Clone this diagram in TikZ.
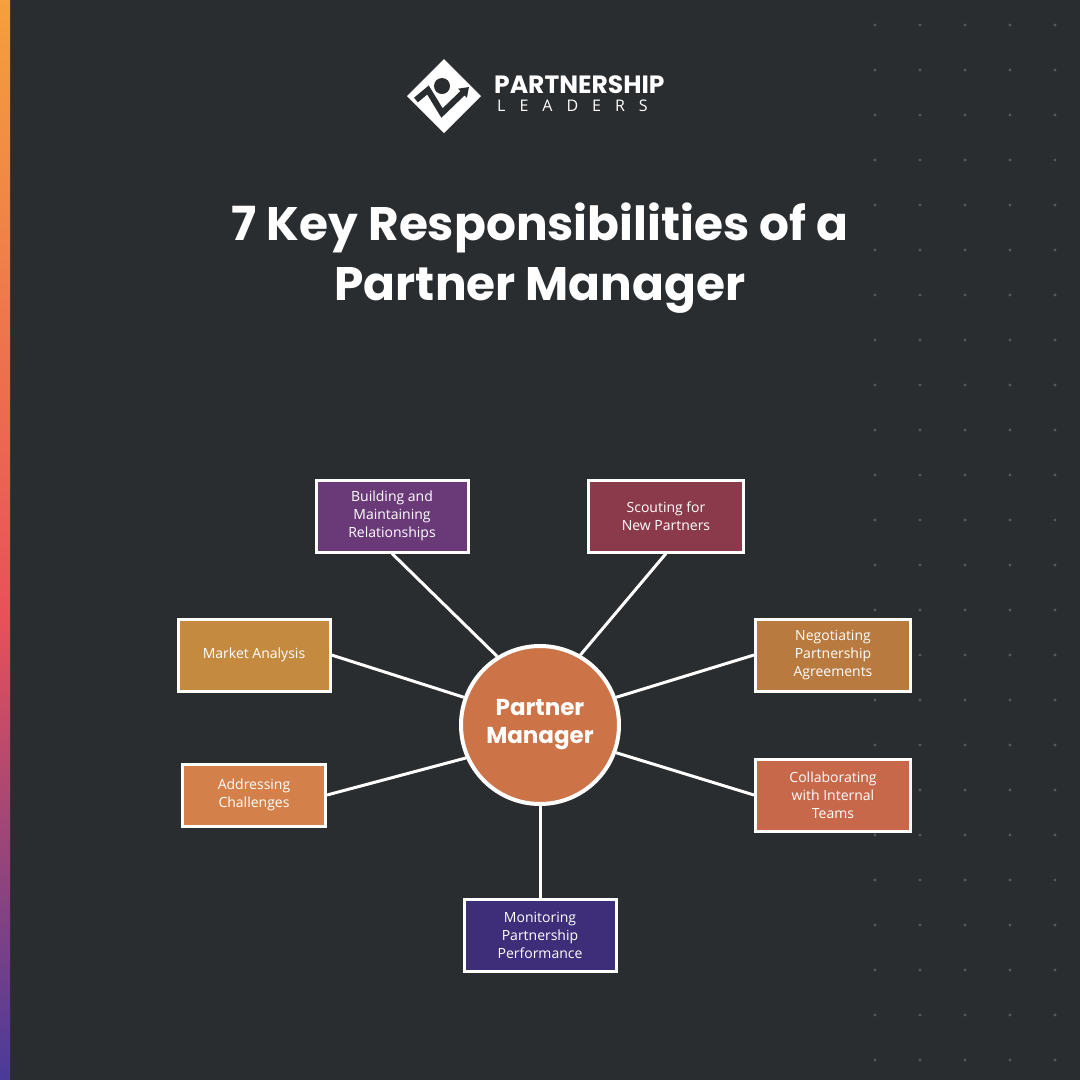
\documentclass[tikz,border=0pt]{standalone}
\usepackage{fontspec}
\setmainfont{Open Sans}
\newfontfamily\titlefont{Poppins}
\usetikzlibrary{positioning, arrows.meta}
\definecolor{bgdark}{HTML}{2A2D30}
\definecolor{dotgrey}{HTML}{555860}
\definecolor{pmorange}{HTML}{CC7448}
\definecolor{cbuild}{HTML}{6A3A78}
\definecolor{cscout}{HTML}{8A3A4A}
\definecolor{cnego}{HTML}{B87A3E}
\definecolor{cmarket}{HTML}{C48A40}
\definecolor{caddr}{HTML}{D4804A}
\definecolor{ccollab}{HTML}{C8684A}
\definecolor{cmon}{HTML}{3E2E7A}
\definecolor{barA}{HTML}{F5A03C}
\definecolor{barB}{HTML}{E8505A}
\definecolor{barC}{HTML}{4A3A9A}
\tikzset{
  taskbox/.style={draw=white, line width=3pt, text=white, font=\fontsize{14}{18}\selectfont,
    align=center, minimum width=152pt, minimum height=72pt, inner sep=2pt},
  spoke/.style={draw=white, line width=3pt}
}
\begin{document}
\begin{tikzpicture}[x=1pt, y=-1pt]
    \fill[bgdark] (0,0) rectangle (1080,1080);
    \useasboundingbox (0,0) rectangle (1080,1080);
    % side bar
    \shade[top color=barA, bottom color=barB] (0,0) rectangle (10,620);
    \shade[top color=barB, bottom color=barC] (0,620) rectangle (10,1080);
    % dot grid
    \foreach \x in {875,920,965,1010,1055}
        \foreach \y in {25,70,...,1060}
            \fill[dotgrey] (\x,\y) circle (1.6);
    % logo
    \fill[white] (444,59) -- (481,96) -- (444,133) -- (407,96) -- cycle;
    \draw[bgdark, line width=6pt, -{Triangle[length=9pt,width=12pt]}] (416,100) -- (428,90) -- (442,113) -- (469,87);
    \fill[bgdark] (442,86) circle (8);
    \node[text=white, font=\titlefont\bfseries\fontsize{25}{25}\selectfont, anchor=west, inner sep=0pt] (brand) at (494,85) {PARTNERSHIP};
    \node[text=white, font=\fontsize{16}{16}\selectfont, anchor=west, inner sep=0pt] (brandsub) at (497,106) {L\hspace{14pt}E\hspace{14pt}A\hspace{14pt}D\hspace{14pt}E\hspace{14pt}R\hspace{14pt}S};
    % title
    \node[text=white, font=\titlefont\bfseries\fontsize{47}{60}\selectfont, align=center] (title) at (540,258)
        {7 Key Responsibilities of a\\Partner Manager};
    % hub
    \node[circle, draw=white, line width=4pt, fill=pmorange, minimum size=158pt, text=white,
        font=\titlefont\bfseries\fontsize{23}{28}\selectfont, align=center] (pm) at (540,725) {Partner\\Manager};
    \node[taskbox, fill=cbuild] (build) at (392,516) {Building and\\Maintaining\\Relationships};
    \node[taskbox, fill=cscout, minimum width=155pt] (scout) at (666,516) {Scouting for\\New Partners};
    \node[taskbox, fill=cnego, minimum width=155pt] (nego) at (833,655) {Negotiating\\Partnership\\Agreements};
    \node[taskbox, fill=cmarket] (market) at (254,655) {Market Analysis};
    \node[taskbox, fill=caddr, minimum width=143pt, minimum height=62pt] (addr) at (254,795) {Addressing\\Challenges};
    \node[taskbox, fill=ccollab, minimum width=155pt] (collab) at (833,795) {Collaborating\\with Internal\\Teams};
    \node[taskbox, fill=cmon] (mon) at (540,935) {Monitoring\\Partnership\\Performance};
    % spokes
    \draw[spoke] (build.south) -- (pm.122);
    \draw[spoke] (scout.south) -- (pm.60);
    \draw[spoke] (nego.west) -- (pm.20);
    \draw[spoke] (market.east) -- (pm.160);
    \draw[spoke] (addr.east) -- (pm.204);
    \draw[spoke] (collab.west) -- (pm.-20);
    \draw[spoke] (pm.south) -- (mon.north);
\end{tikzpicture}
\end{document}
